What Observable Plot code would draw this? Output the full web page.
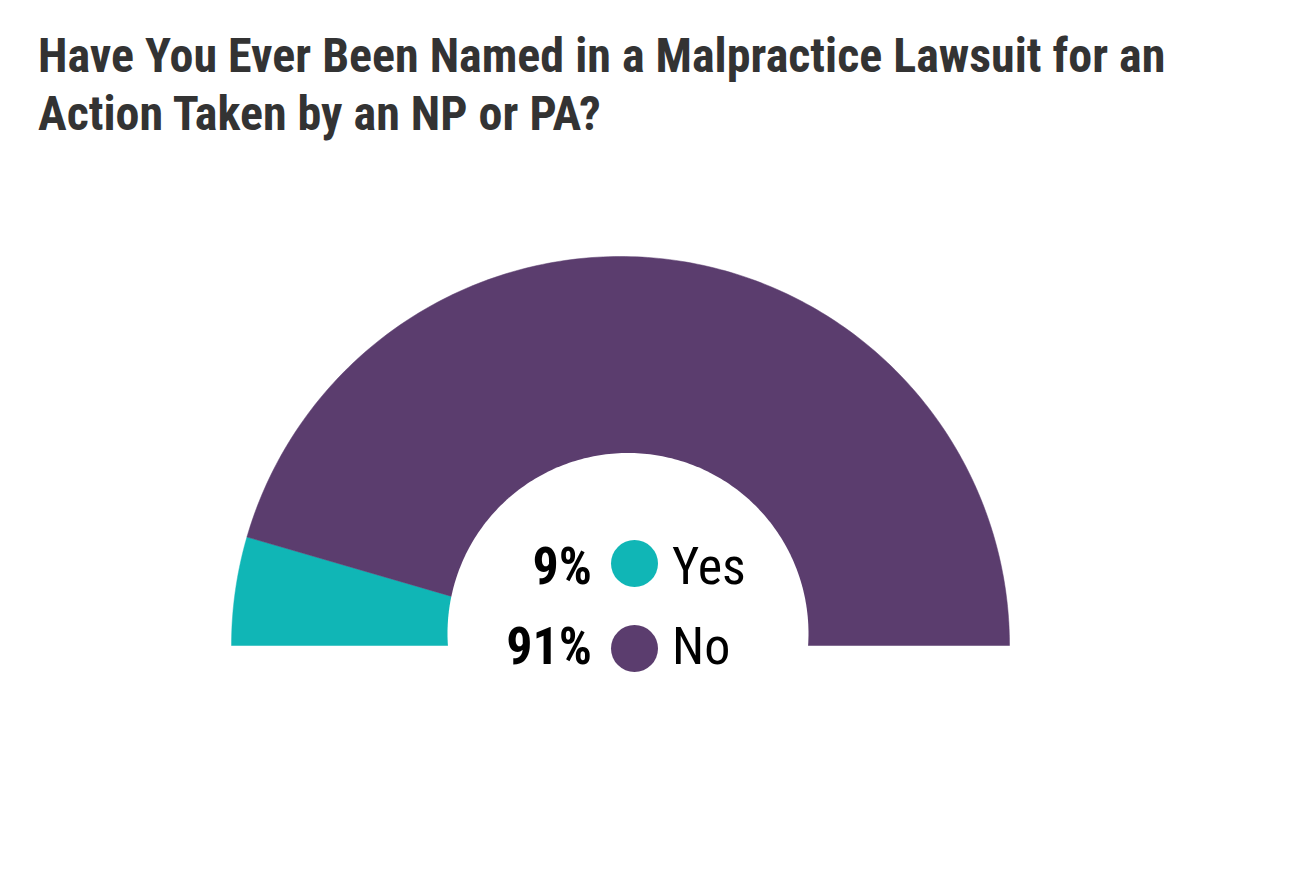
<!DOCTYPE html>
<html>
<head>
<meta charset="utf-8">
<script src="https://cdn.jsdelivr.net/npm/d3@7"></script>
<script src="https://cdn.jsdelivr.net/npm/@observablehq/plot@0.6"></script>
<style>
  body { margin: 0; background: #fff; }
  #wrap { position: relative; width: 1290px; height: 878px; overflow: hidden; background: #fff; }
  #title {
    position: absolute; left: 38px; top: 27px; margin: 0;
    font-family: "Roboto Condensed", "Liberation Sans Narrow", "DejaVu Sans Condensed", Roboto, sans-serif;
    font-stretch: condensed; font-weight: 700; font-size: 48px; line-height: 57.5px; color: #333333;
    white-space: nowrap;
  }
  #chart { position: absolute; left: 0; top: 160px; }
  .leg { position: absolute; font-family: "Roboto Condensed", "Liberation Sans Narrow", "DejaVu Sans Condensed", Roboto, sans-serif;
    font-stretch: condensed; font-size: 52px; line-height: 52px; color: #000; white-space: nowrap; }
  .pct { font-weight: 700; text-align: right; }
  .sw { position: absolute; border-radius: 50%; }
</style>
</head>
<body>
<div id="wrap">
  <div id="title"></div>
  <div id="chart"></div>
</div>
<script>
// ---- data ----
const titleLines = ["Have You Ever Been Named in a Malpractice Lawsuit for an", "Action Taken by an NP or PA?"];
const categories = ["Yes", "No"];
const values = [9, 91];
const colors = ["#10b6b6", "#5b3d6e"];

// ---- layout ----
const W = 1290, H = 718;
const cx = 620, cy = 485, R = 389;           // pixel centre & outer radius of gauge
const hole = {dx: 7.5 / R, dy: 12 / R, r: 180.5 / R}; // inner hole, in units of R

document.getElementById("title").innerHTML = titleLines.join("<br>");

// build wedge polygons from values (semicircle: 180° = 100%)
const total = d3.sum(values);
const pts = [];
let cum = 0;
categories.forEach((cat, i) => {
  const a0 = Math.PI - Math.PI * cum / total;
  const a1 = Math.PI - Math.PI * (cum + values[i]) / total;
  pts.push({key: cat, x: 0, y: 0});
  const n = 200;
  for (let k = 0; k <= n; k++) {
    const t = a0 + (a1 - a0) * k / n;
    pts.push({key: cat, x: Math.cos(t), y: Math.sin(t)});
  }
  pts.push({key: cat, x: 0, y: 0});
  cum += values[i];
});
const holePts = d3.range(0, 361).map(k => {
  const t = k * Math.PI / 180;
  return {x: hole.dx + hole.r * Math.cos(t), y: hole.dy + hole.r * Math.sin(t)};
});

const plot = Plot.plot({
  width: W, height: H,
  margin: 0,
  x: {type: "linear", domain: [-cx / R, (W - cx) / R], range: [0, W], axis: null},
  y: {type: "linear", domain: [-(H - cy) / R, cy / R], range: [H, 0], axis: null},
  color: {domain: categories, range: colors},
  marks: [
    Plot.line(pts, {x: "x", y: "y", z: "key", fill: "key", stroke: "key", strokeWidth: 0.5}),
    Plot.line(holePts, {x: "x", y: "y", fill: "white", stroke: "none"})
  ]
});
document.getElementById("chart").appendChild(plot);

// ---- legend (centre of gauge) ----
const wrap = document.getElementById("wrap");
const legRows = [
  {baseline: 585, cyDot: 563},
  {baseline: 665, cyDot: 648}
];
const dotR = 23.5, pctRight = 592, dotCx = 634, labelLeft = 672;
categories.forEach((cat, i) => {
  const row = legRows[i];
  const top = row.baseline - 44;
  const p = document.createElement("div");
  p.className = "leg pct";
  p.style.right = (1290 - pctRight) + "px";
  p.style.top = top + "px";
  p.textContent = values[i] + "%";
  wrap.appendChild(p);
  const s = document.createElement("div");
  s.className = "sw";
  s.style.left = (dotCx - dotR) + "px";
  s.style.top = (row.cyDot - dotR) + "px";
  s.style.width = s.style.height = (2 * dotR) + "px";
  s.style.background = colors[i];
  wrap.appendChild(s);
  const l = document.createElement("div");
  l.className = "leg";
  l.style.left = labelLeft + "px";
  l.style.top = top + "px";
  l.textContent = cat;
  wrap.appendChild(l);
});
</script>
</body>
</html>
